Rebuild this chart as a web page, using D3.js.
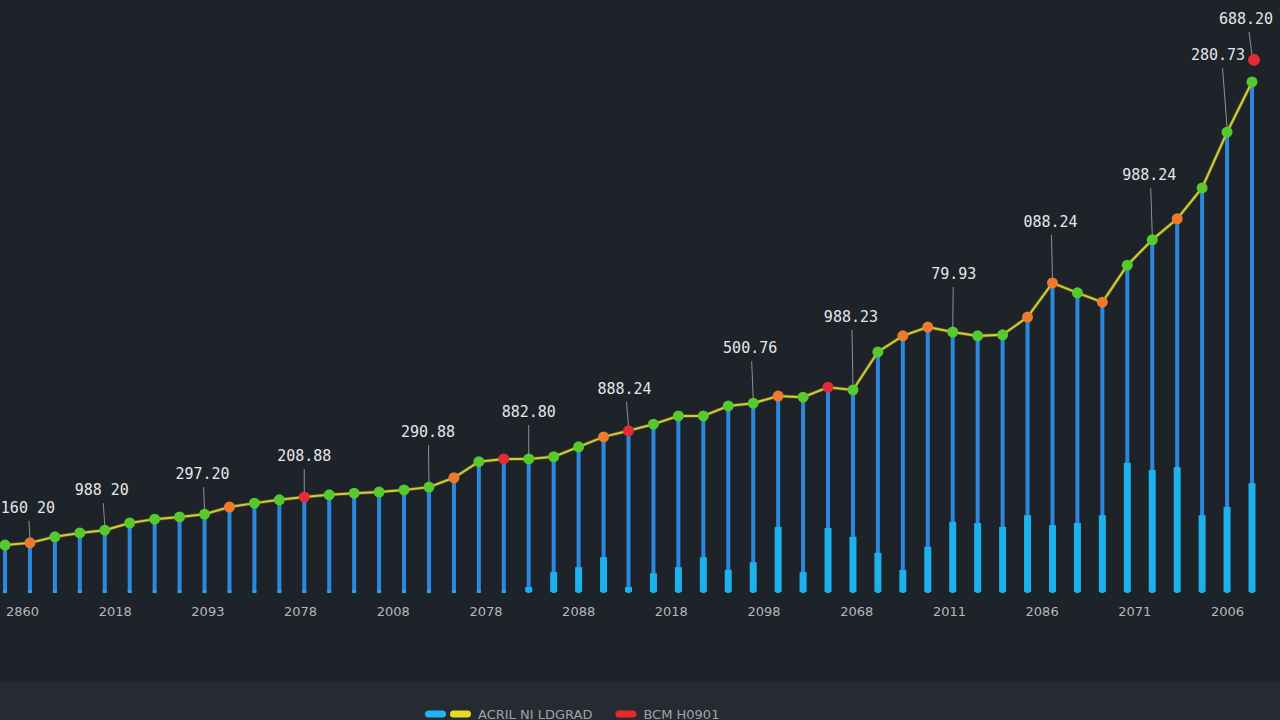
<!DOCTYPE html>
<html>
<head>
<meta charset="utf-8">
<script src="https://cdn.jsdelivr.net/npm/d3@7"></script>
<style>
  html, body { margin: 0; padding: 0; background: #1e2229; }
  svg { display: block; }
</style>
</head>
<body>
<div id="chart"></div>
<script>
// main series (line + tall blue bars)
var values = [85, 89, 100, 107, 112, 125, 132, 136, 141, 154,
              161, 167, 172, 176, 179, 181, 185, 190, 207, 236,
              241, 241, 245, 263, 281, 292, 304, 319, 319, 337,
              342, 355, 353, 371, 366, 435, 464, 480, 471, 464,
              466, 498, 560, 542, 525, 592, 638, 676, 732, 833,
              924];
// secondary series (short cyan bars)
var lower = [0, 0, 0, 0, 0, 0, 0, 0, 0, 0,
             0, 0, 0, 0, 0, 0, 0, 0, 0, 0,
             0, 9, 36, 45, 63, 9, 34, 45, 63, 40,
             54, 118, 36, 116, 100, 71, 40, 82, 127, 125,
             118, 139, 121, 125, 139, 234, 221, 226, 139, 154,
             197];
// marker state: g = normal, o = warning, r = alert
var markState = ["g", "o", "g", "g", "g", "g", "g", "g", "g", "o",
                 "g", "g", "r", "g", "g", "g", "g", "g", "o", "g",
                 "r", "g", "g", "g", "o", "r", "g", "g", "g", "g",
                 "g", "o", "g", "r", "g", "g", "o", "o", "g", "g",
                 "g", "o", "o", "g", "o", "g", "g", "o", "g", "g",
                 "g"];
var peakValue = 964;

var tickLabels = ["2860", "2018", "2093", "2078", "2008", "2078", "2088",
                  "2018", "2098", "2068", "2011", "2086", "2071", "2006"];

var labelIndex = [1, 4, 8, 12, 17, 21, 25, 30, 34, 38, 42, 46, 49, 50];
var labelText = ["160 20", "988 20", "297.20", "208.88", "290.88", "882.80", "888.24",
                 "500.76", "988.23", "79.93", "088.24", "988.24", "280.73", "688.20"];
// layout only: how far each label sits above its point (px), and a sideways nudge
var labelLift = [30, 35, 35, 36, 50, 42, 37, 50, 68, 53, 56, 60, 72, 36];
var labelShift = [-2, -3, -2, 0, -1, 0, -4, -3, -2, 1, -2, -3, -9, -6];

var legendItems = [
  {name: "ACRIL NI LDGRAD", colors: ["#1fb6f2", "#e3dc22"]},
  {name: "BCM H0901", colors: ["#e52a2a"]}
];

var W = 1280, H = 720;
var baseY = 592;

var svg = d3.select("#chart")
  .append("svg")
    .attr("width", W)
    .attr("height", H);

svg.append("rect")
  .attr("width", W).attr("height", H)
  .attr("fill", "#1e2229");

svg.append("rect")
  .attr("y", 682).attr("width", W).attr("height", H - 682)
  .attr("fill", "#262a31");

var x = d3.scalePoint().domain(d3.range(values.length)).range([5, 1252]);
var y = d3.scaleLinear().domain([0, 1000]).range([baseY, 40]);
var xt = d3.scalePoint().domain(d3.range(tickLabels.length)).range([22, 1227]);

var dotColor = {g: "#56c92c", o: "#ee7a2e", r: "#e52a3a"};

// tall blue bars
svg.selectAll(".bar")
  .data(values)
  .enter().append("rect")
    .attr("class", "bar")
    .attr("x", function(d, i) { return x(i) - 2; })
    .attr("y", function(d) { return y(d); })
    .attr("width", 4)
    .attr("height", function(d) { return baseY - y(d); })
    .attr("fill", "#2c88dc");

// short cyan bars
svg.selectAll(".low")
  .data(lower)
  .enter().append("rect")
    .attr("class", "low")
    .attr("x", function(d, i) { return x(i) - 3.5; })
    .attr("y", function(d) { return y(d); })
    .attr("width", 7)
    .attr("height", function(d) { return baseY - y(d); })
    .attr("fill", "#1cb2ee");

// little tick marks along the base
svg.selectAll(".foot")
  .data(values)
  .enter().append("rect")
    .attr("class", "foot")
    .attr("x", function(d, i) { return x(i) - 2; })
    .attr("y", baseY - 2)
    .attr("width", 4)
    .attr("height", 3)
    .attr("fill", "#1fa8ec");

// leader lines + labels
var ann = svg.append("g").attr("class", "annotations");
labelIndex.forEach(function(idx, k) {
  var v = (idx === 50) ? peakValue : values[idx];
  var px = x(idx), py = y(v);
  var ty = py - labelLift[k];
  ann.append("line")
    .attr("x1", px + labelShift[k] / 2).attr("x2", px)
    .attr("y1", ty + 8).attr("y2", py - 5)
    .attr("stroke", "#8c9299")
    .attr("stroke-width", 1);
  var tx = Math.min(px + labelShift[k], W - 34);
  ann.append("text")
    .attr("x", tx)
    .attr("y", ty)
    .attr("text-anchor", "middle")
    .style("font-family", "DejaVu Sans Mono, monospace")
    .style("font-size", "15px")
    .attr("fill", "#e4e6e8")
    .text(labelText[k]);
});

// line
var line = d3.line()
  .x(function(d, i) { return x(i); })
  .y(function(d) { return y(d); });

svg.append("path")
  .datum(values)
  .attr("fill", "none")
  .attr("stroke", "#e08a2a")
  .attr("stroke-width", 3.5)
  .attr("opacity", 0.4)
  .attr("d", line);

svg.append("path")
  .datum(values)
  .attr("fill", "none")
  .attr("stroke", "#c3d52e")
  .attr("stroke-width", 2)
  .attr("d", line);

// markers
svg.selectAll(".dot")
  .data(values)
  .enter().append("circle")
    .attr("class", "dot")
    .attr("cx", function(d, i) { return x(i); })
    .attr("cy", function(d) { return y(d); })
    .attr("r", 5.5)
    .attr("fill", function(d, i) { return dotColor[markState[i]]; });

// peak marker
svg.append("circle")
  .attr("cx", x(values.length - 1) + 2)
  .attr("cy", y(peakValue))
  .attr("r", 6)
  .attr("fill", "#e52a3a");

// x axis labels
var axis = svg.append("g")
  .attr("transform", "translate(0," + (baseY + 12) + ")")
  .call(d3.axisBottom(xt).tickSize(0).tickFormat(function(i) { return tickLabels[i]; }));
axis.select(".domain").remove();
axis.selectAll("text")
  .attr("fill", "#b4b8be")
  .style("font-family", "DejaVu Sans, sans-serif")
  .style("font-size", "13px");

// legend
var lg = svg.append("g").attr("transform", "translate(425,714)");
var lx = 0;
legendItems.forEach(function(item) {
  item.colors.forEach(function(c) {
    lg.append("rect")
      .attr("x", lx).attr("y", -3.5)
      .attr("width", 21).attr("height", 7)
      .attr("rx", 3.5)
      .attr("fill", c);
    lx += 25;
  });
  var t = lg.append("text")
    .attr("x", lx + 3)
    .attr("y", 4.5)
    .style("font-family", "DejaVu Sans, sans-serif")
    .style("font-size", "13px")
    .attr("fill", "#9ea3aa")
    .text(item.name);
  lx += t.node().getComputedTextLength() + 26;
});
</script>
</body>
</html>
